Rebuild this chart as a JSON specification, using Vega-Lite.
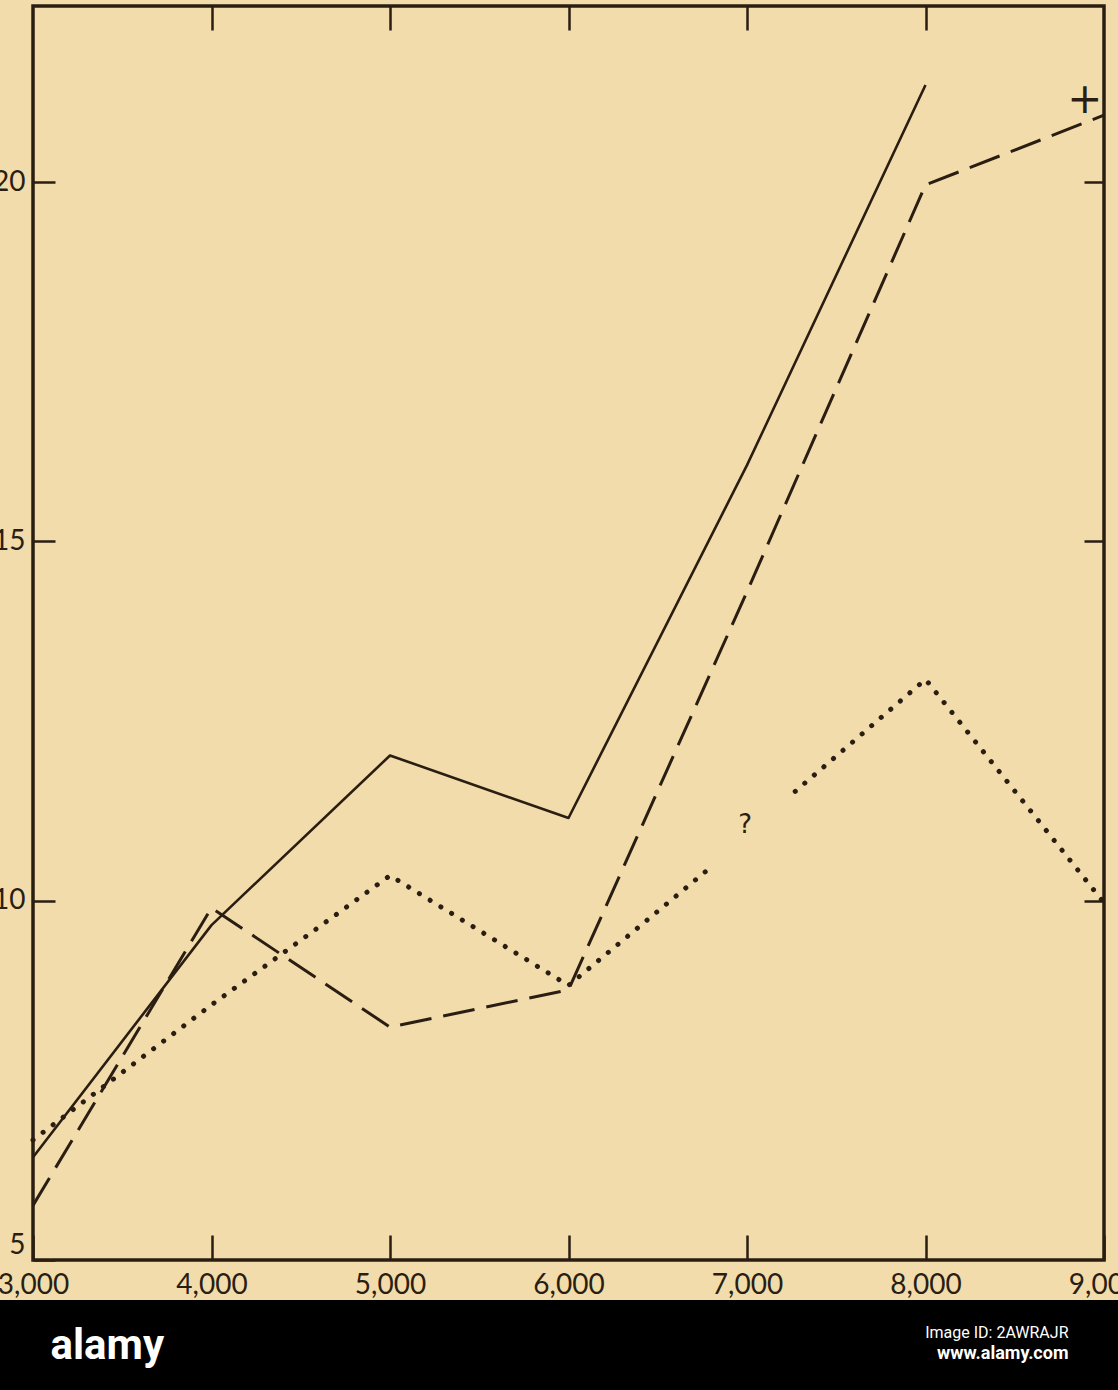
{
  "$schema": "https://vega.github.io/schema/vega-lite/v6.json",
  "width": 1118,
  "height": 1300,
  "autosize": {"type": "none"},
  "padding": {"left": 0, "top": 0, "right": 0, "bottom": 90},
  "background": "#000000",
  "config": {
    "view": {"fill": "#f2dcab", "stroke": null},
    "font": "Lato"
  },
  "resolve": {"axis": {"x": "independent", "y": "independent"}},
  "data": {
    "values": [
      {"series": "solid", "seg": "s", "x": 3000, "y": 6.43},
      {"series": "solid", "seg": "s", "x": 4000, "y": 9.66},
      {"series": "solid", "seg": "s", "x": 5000, "y": 12.02},
      {"series": "solid", "seg": "s", "x": 6000, "y": 11.15},
      {"series": "solid", "seg": "s", "x": 7000, "y": 16.06},
      {"series": "solid", "seg": "s", "x": 8000, "y": 21.35},
      {"series": "dashed", "seg": "d", "x": 3000, "y": 5.76},
      {"series": "dashed", "seg": "d", "x": 4000, "y": 9.9},
      {"series": "dashed", "seg": "d", "x": 5000, "y": 8.24},
      {"series": "dashed", "seg": "d", "x": 6000, "y": 8.76},
      {"series": "dashed", "seg": "d", "x": 7000, "y": 14.3},
      {"series": "dashed", "seg": "d", "x": 8000, "y": 19.96},
      {"series": "dashed", "seg": "d", "x": 9000, "y": 20.93},
      {"series": "dotted", "seg": "a", "x": 3000, "y": 6.67},
      {"series": "dotted", "seg": "a", "x": 4000, "y": 8.55},
      {"series": "dotted", "seg": "a", "x": 5000, "y": 10.35},
      {"series": "dotted", "seg": "a", "x": 6000, "y": 8.82},
      {"series": "dotted", "seg": "a", "x": 6770, "y": 10.41},
      {"series": "dotted", "seg": "b", "x": 7270, "y": 11.52},
      {"series": "dotted", "seg": "b", "x": 8000, "y": 13.08},
      {"series": "dotted", "seg": "b", "x": 9000, "y": 9.97}
    ]
  },
  "layer": [
    {
      "data": {"values": [{"frame": "plot"}]},
      "mark": {"type": "rect", "fillOpacity": 0, "stroke": "#2a1e12", "strokeWidth": 3.5},
      "encoding": {
        "x": {
          "datum": 3000, "type": "quantitative",
          "scale": {"domain": [2815.1, 9078.4], "nice": false, "zero": false},
          "axis": {
            "orient": "bottom", "offset": -40,
            "values": [3000, 4000, 5000, 6000, 7000, 8000, 9000],
            "format": ",d", "domain": false, "grid": false,
            "tickSize": -25, "tickWidth": 2.5, "tickColor": "#2a1e12",
            "labelPadding": 36, "labelFontSize": 28, "labelColor": "#2a1e12",
            "labelFlush": false, "labelOverlap": false, "labelBound": false,
            "title": "alamy", "titleX": 50, "titleY": 98, "titleAlign": "left",
            "titleBaseline": "alphabetic", "titleFont": "Roboto",
            "titleFontSize": 42, "titleFontWeight": "bold", "titleColor": "#ffffff"
          }
        },
        "x2": {"datum": 9000},
        "y": {
          "datum": 5, "type": "quantitative",
          "scale": {"domain": [4.443, 22.533], "nice": false, "zero": false},
          "axis": {
            "orient": "left", "offset": -33,
            "values": [5, 10, 15, 20],
            "domain": false, "grid": false,
            "tickSize": -22, "tickWidth": 2.5, "tickColor": "#2a1e12",
            "labelPadding": 30, "labelFontSize": 28, "labelColor": "#2a1e12",
            "labelBaseline": {"condition": {"test": "datum.value === 5", "value": "bottom"}, "value": "middle"},
            "labelOverlap": false, "labelBound": false, "labelFlush": false,
            "title": null
          }
        },
        "y2": {"datum": 22.45}
      }
    },
    {
      "transform": [{"filter": "datum.series === 'solid'"}],
      "mark": {"type": "line", "color": "#2a1e12", "strokeWidth": 2.6, "strokeJoin": "round"},
      "encoding": {
        "x": {
          "field": "x", "type": "quantitative",
          "axis": {
            "orient": "top", "offset": -5,
            "values": [4000, 5000, 6000, 7000, 8000],
            "domain": false, "grid": false, "labels": false,
            "tickSize": -25, "tickWidth": 2.5, "tickColor": "#2a1e12",
            "title": "www.alamy.com", "titleX": 1068, "titleY": 1353,
            "titleAlign": "right", "titleBaseline": "alphabetic",
            "titleFont": "Roboto", "titleFontSize": 18,
            "titleFontWeight": "bold", "titleColor": "#ffffff"
          }
        },
        "y": {
          "field": "y", "type": "quantitative",
          "axis": {
            "orient": "right", "offset": -14,
            "values": [10, 15, 20],
            "domain": false, "grid": false, "labels": false,
            "tickSize": -20, "tickWidth": 2.5, "tickColor": "#2a1e12",
            "title": "Image ID: 2AWRAJR", "titleAngle": 0, "titleX": -36, "titleY": 1337,
            "titleAlign": "right", "titleBaseline": "alphabetic",
            "titleFont": "Roboto", "titleFontSize": 16,
            "titleFontWeight": "normal", "titleColor": "#ffffff"
          }
        },
        "detail": {"field": "seg"}
      }
    },
    {
      "transform": [{"filter": "datum.series === 'dashed'"}],
      "mark": {"type": "line", "color": "#2a1e12", "strokeWidth": 3, "strokeDash": [32, 12], "strokeJoin": "round"},
      "encoding": {
        "x": {"field": "x", "type": "quantitative", "axis": null},
        "y": {"field": "y", "type": "quantitative", "axis": null},
        "detail": {"field": "seg"}
      }
    },
    {
      "transform": [{"filter": "datum.series === 'dotted'"}],
      "mark": {"type": "line", "color": "#2a1e12", "strokeWidth": 5, "strokeDash": [0.1, 12.5], "strokeCap": "round", "strokeJoin": "round"},
      "encoding": {
        "x": {"field": "x", "type": "quantitative", "axis": null},
        "y": {"field": "y", "type": "quantitative", "axis": null},
        "detail": {"field": "seg"}
      }
    },
    {
      "data": {
        "values": [
          {"label": "+", "x": 8893, "y": 21.14, "size": "big"},
          {"label": "?", "x": 6990, "y": 11.05, "size": "small"}
        ]
      },
      "mark": {"type": "text", "color": "#2a1e12", "font": "DejaVu Sans"},
      "encoding": {
        "x": {"field": "x", "type": "quantitative", "axis": null},
        "y": {"field": "y", "type": "quantitative", "axis": null},
        "text": {"field": "label"},
        "size": {
          "field": "size", "type": "nominal",
          "scale": {"domain": ["big", "small"], "range": [42, 26]},
          "legend": null
        }
      }
    }
  ]
}
